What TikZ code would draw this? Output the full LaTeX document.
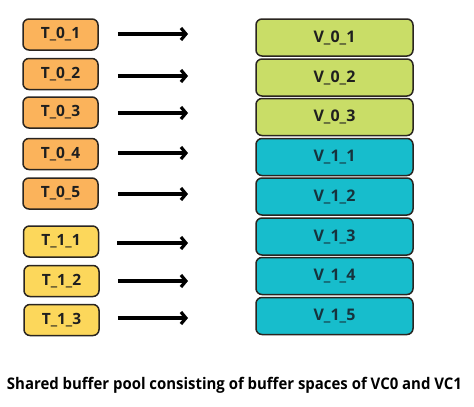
\documentclass[tikz,border=0pt]{standalone}
\usepackage{fontspec}
\setmainfont{Open Sans}
\usetikzlibrary{arrows.meta}
\definecolor{torange}{HTML}{FBB35B}
\definecolor{tyellow}{HTML}{FCD75B}
\definecolor{vlime}{HTML}{C9DD67}
\definecolor{vcyan}{HTML}{17BDCC}
\definecolor{edge}{HTML}{2A2520}
\definecolor{tealtext}{HTML}{16333D}
\begin{document}
\begin{tikzpicture}[x=1pt,y=-1pt,
  tbox/.style={draw=edge,line width=1.5pt,rounded corners=6pt,minimum width=75pt,minimum height=31pt,inner sep=0pt,font=\fontsize{15.5}{17}\selectfont\bfseries,text=black!88},
  vbox/.style={draw=edge,line width=1.5pt,rounded corners=6pt,minimum width=157pt,minimum height=37pt,inner sep=0pt,font=\fontsize{16}{17}\selectfont\bfseries,text=black!88},
  arr/.style={line width=3.2pt,-{Straight Barb[length=5pt,width=12pt,line width=3.2pt]},shorten <=19pt}
]
\useasboundingbox[fill=white] (0,0) rectangle (474,407);
% T boxes
\node[tbox,fill=torange] (t01) at (60.5,34.5) {T\_0\_1};
\node[tbox,fill=torange] (t02) at (60.5,74) {T\_0\_2};
\node[tbox,fill=torange] (t03) at (60.5,112.5) {T\_0\_3};
\node[tbox,fill=torange] (t04) at (60.5,154) {T\_0\_4};
\node[tbox,fill=torange] (t05) at (60.5,193.5) {T\_0\_5};
\node[tbox,fill=tyellow] (t11) at (61,241.5) {T\_1\_1};
\node[tbox,fill=tyellow] (t12) at (61.5,281) {T\_1\_2};
\node[tbox,fill=tyellow] (t13) at (61.5,320) {T\_1\_3};
% V boxes
\node[vbox,fill=vlime] (v01) at (334.5,37.5) {V\_0\_1};
\node[vbox,fill=vlime] (v02) at (334.5,77.5) {V\_0\_2};
\node[vbox,fill=vlime] (v03) at (334.5,117) {V\_0\_3};
\node[vbox,fill=vcyan,text=tealtext] (v11) at (334.5,157) {V\_1\_1};
\node[vbox,fill=vcyan,text=tealtext] (v12) at (334.5,196.5) {V\_1\_2};
\node[vbox,fill=vcyan,text=tealtext] (v13) at (334.5,236.5) {V\_1\_3};
\node[vbox,fill=vcyan,text=tealtext] (v14) at (334.5,276) {V\_1\_4};
\node[vbox,fill=vcyan,text=tealtext] (v15) at (334.5,316) {V\_1\_5};
% arrows
\coordinate (e1) at (188,34);
\coordinate (e2) at (188,76);
\coordinate (e3) at (188,113);
\coordinate (e4) at (188,153);
\coordinate (e5) at (188,194);
\coordinate (e6) at (188,243);
\coordinate (e7) at (188,281);
\coordinate (e8) at (188,318);
\draw[arr] (t01.east |- e1) -- (e1);
\draw[arr] (t02.east |- e2) -- (e2);
\draw[arr] (t03.east |- e3) -- (e3);
\draw[arr] (t04.east |- e4) -- (e4);
\draw[arr] (t05.east |- e5) -- (e5);
\draw[arr,shorten <=18pt] (t11.east |- e6) -- (e6);
\draw[arr,shorten <=18pt] (t12.east |- e7) -- (e7);
\draw[arr,shorten <=18pt] (t13.east |- e8) -- (e8);
% caption
\node[font=\fontsize{16}{20}\selectfont\bfseries,text=black,inner sep=0pt] (cap) at (234.5,385) {\resizebox{455pt}{\height}{Shared buffer pool consisting of buffer spaces of VC0 and VC1}};
\end{tikzpicture}
\end{document}
